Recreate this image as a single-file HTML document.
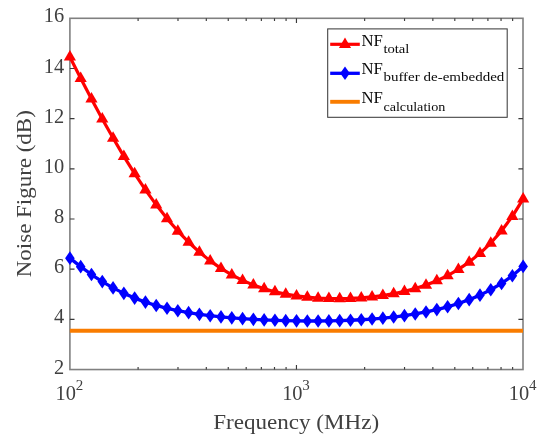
<!DOCTYPE html>
<html><head><meta charset="utf-8"><style>
html,body{margin:0;padding:0;background:#fff;}
svg{display:block;}
</style></head><body>
<svg style="will-change:transform" width="550" height="443" viewBox="0 0 550 443">
<rect width="550" height="443" fill="#ffffff"/>
<rect x="69.9" y="18.3" width="453.10" height="351.25" fill="none" stroke="#808080" stroke-width="1.6"/>
<path d="M69.9,319.37h4.6M523.0,319.37h-4.6M69.9,269.19h4.6M523.0,269.19h-4.6M69.9,219.01h4.6M523.0,219.01h-4.6M69.9,168.84h4.6M523.0,168.84h-4.6M69.9,118.66h4.6M523.0,118.66h-4.6M69.9,68.48h4.6M523.0,68.48h-4.6M296.45,369.55v-4.6M296.45,18.3v4.6M138.10,369.55v-2.6M138.10,18.3v2.6M177.99,369.55v-2.6M177.99,18.3v2.6M206.30,369.55v-2.6M206.30,18.3v2.6M228.25,369.55v-2.6M228.25,18.3v2.6M246.19,369.55v-2.6M246.19,18.3v2.6M261.36,369.55v-2.6M261.36,18.3v2.6M274.50,369.55v-2.6M274.50,18.3v2.6M286.08,369.55v-2.6M286.08,18.3v2.6M364.65,369.55v-2.6M364.65,18.3v2.6M404.54,369.55v-2.6M404.54,18.3v2.6M432.85,369.55v-2.6M432.85,18.3v2.6M454.80,369.55v-2.6M454.80,18.3v2.6M472.74,369.55v-2.6M472.74,18.3v2.6M487.91,369.55v-2.6M487.91,18.3v2.6M501.05,369.55v-2.6M501.05,18.3v2.6M512.63,369.55v-2.6M512.63,18.3v2.6" stroke="#3a3a3a" stroke-width="1.15" fill="none"/>
<line x1="69.9" y1="330.7" x2="523.0" y2="330.7" stroke="#f97c00" stroke-width="3.9"/>
<polyline points="69.90,258.15 80.69,266.65 91.48,274.51 102.28,281.61 113.07,287.89 123.86,293.37 134.65,298.08 145.44,302.09 156.23,305.47 167.03,308.31 177.82,310.69 188.61,312.67 199.40,314.33 210.19,315.72 220.98,316.88 231.78,317.85 242.57,318.66 253.36,319.33 264.15,319.88 274.94,320.32 285.73,320.64 296.52,320.86 307.32,320.98 318.11,320.99 328.90,320.88 339.69,320.64 350.48,320.27 361.27,319.75 372.07,319.05 382.86,318.15 393.65,317.03 404.44,315.65 415.23,313.98 426.02,311.98 436.82,309.60 447.61,306.80 458.40,303.51 469.19,299.66 479.98,295.13 490.77,289.79 501.57,283.43 512.36,275.77 523.15,266.40" fill="none" stroke="#0000ff" stroke-width="3.3" stroke-linejoin="round"/>
<g fill="#0000ff"><path d="M69.90,251.35L74.70,258.15L69.90,264.95L65.10,258.15Z"/><path d="M80.69,259.85L85.49,266.65L80.69,273.45L75.89,266.65Z"/><path d="M91.48,267.71L96.28,274.51L91.48,281.31L86.68,274.51Z"/><path d="M102.28,274.81L107.08,281.61L102.28,288.41L97.48,281.61Z"/><path d="M113.07,281.09L117.87,287.89L113.07,294.69L108.27,287.89Z"/><path d="M123.86,286.57L128.66,293.37L123.86,300.17L119.06,293.37Z"/><path d="M134.65,291.28L139.45,298.08L134.65,304.88L129.85,298.08Z"/><path d="M145.44,295.29L150.24,302.09L145.44,308.89L140.64,302.09Z"/><path d="M156.23,298.67L161.03,305.47L156.23,312.27L151.43,305.47Z"/><path d="M167.03,301.51L171.83,308.31L167.03,315.11L162.22,308.31Z"/><path d="M177.82,303.89L182.62,310.69L177.82,317.49L173.02,310.69Z"/><path d="M188.61,305.87L193.41,312.67L188.61,319.47L183.81,312.67Z"/><path d="M199.40,307.53L204.20,314.33L199.40,321.13L194.60,314.33Z"/><path d="M210.19,308.92L214.99,315.72L210.19,322.52L205.39,315.72Z"/><path d="M220.98,310.08L225.78,316.88L220.98,323.68L216.18,316.88Z"/><path d="M231.78,311.05L236.58,317.85L231.78,324.65L226.97,317.85Z"/><path d="M242.57,311.86L247.37,318.66L242.57,325.46L237.77,318.66Z"/><path d="M253.36,312.53L258.16,319.33L253.36,326.13L248.56,319.33Z"/><path d="M264.15,313.08L268.95,319.88L264.15,326.68L259.35,319.88Z"/><path d="M274.94,313.52L279.74,320.32L274.94,327.12L270.14,320.32Z"/><path d="M285.73,313.84L290.53,320.64L285.73,327.44L280.93,320.64Z"/><path d="M296.52,314.06L301.32,320.86L296.52,327.66L291.72,320.86Z"/><path d="M307.32,314.18L312.12,320.98L307.32,327.78L302.52,320.98Z"/><path d="M318.11,314.19L322.91,320.99L318.11,327.79L313.31,320.99Z"/><path d="M328.90,314.08L333.70,320.88L328.90,327.68L324.10,320.88Z"/><path d="M339.69,313.84L344.49,320.64L339.69,327.44L334.89,320.64Z"/><path d="M350.48,313.47L355.28,320.27L350.48,327.07L345.68,320.27Z"/><path d="M361.27,312.95L366.07,319.75L361.27,326.55L356.47,319.75Z"/><path d="M372.07,312.25L376.87,319.05L372.07,325.85L367.27,319.05Z"/><path d="M382.86,311.35L387.66,318.15L382.86,324.95L378.06,318.15Z"/><path d="M393.65,310.23L398.45,317.03L393.65,323.83L388.85,317.03Z"/><path d="M404.44,308.85L409.24,315.65L404.44,322.45L399.64,315.65Z"/><path d="M415.23,307.18L420.03,313.98L415.23,320.78L410.43,313.98Z"/><path d="M426.02,305.18L430.82,311.98L426.02,318.78L421.22,311.98Z"/><path d="M436.82,302.80L441.62,309.60L436.82,316.40L432.02,309.60Z"/><path d="M447.61,300.00L452.41,306.80L447.61,313.60L442.81,306.80Z"/><path d="M458.40,296.71L463.20,303.51L458.40,310.31L453.60,303.51Z"/><path d="M469.19,292.86L473.99,299.66L469.19,306.46L464.39,299.66Z"/><path d="M479.98,288.33L484.78,295.13L479.98,301.93L475.18,295.13Z"/><path d="M490.77,282.99L495.57,289.79L490.77,296.59L485.97,289.79Z"/><path d="M501.57,276.63L506.37,283.43L501.57,290.23L496.77,283.43Z"/><path d="M512.36,268.97L517.16,275.77L512.36,282.57L507.56,275.77Z"/><path d="M523.15,259.60L527.95,266.40L523.15,273.20L518.35,266.40Z"/></g>
<polyline points="69.90,56.94 80.69,78.29 91.48,98.95 102.28,118.90 113.07,138.08 123.86,156.37 134.65,173.66 145.44,189.84 156.23,204.83 167.03,218.58 177.82,231.04 188.61,242.23 199.40,252.16 210.19,260.87 220.98,268.43 231.78,274.91 242.57,280.38 253.36,284.95 264.15,288.70 274.94,291.72 285.73,294.09 296.52,295.89 307.32,297.19 318.11,298.05 328.90,298.52 339.69,298.62 350.48,298.38 361.27,297.78 372.07,296.83 382.86,295.48 393.65,293.70 404.44,291.41 415.23,288.56 426.02,285.03 436.82,280.75 447.61,275.58 458.40,269.41 469.19,262.06 479.98,253.36 490.77,243.06 501.57,230.85 512.36,216.30 523.15,198.84" fill="none" stroke="#ff0000" stroke-width="3.2" stroke-linejoin="round"/>
<g fill="#ff0000"><path d="M69.90,50.04L76.00,60.54L63.80,60.54Z"/><path d="M80.69,71.39L86.79,81.89L74.59,81.89Z"/><path d="M91.48,92.05L97.58,102.55L85.38,102.55Z"/><path d="M102.28,112.00L108.38,122.50L96.18,122.50Z"/><path d="M113.07,131.18L119.17,141.68L106.97,141.68Z"/><path d="M123.86,149.47L129.96,159.97L117.76,159.97Z"/><path d="M134.65,166.76L140.75,177.26L128.55,177.26Z"/><path d="M145.44,182.94L151.54,193.44L139.34,193.44Z"/><path d="M156.23,197.93L162.33,208.43L150.13,208.43Z"/><path d="M167.03,211.68L173.12,222.18L160.93,222.18Z"/><path d="M177.82,224.14L183.92,234.64L171.72,234.64Z"/><path d="M188.61,235.33L194.71,245.83L182.51,245.83Z"/><path d="M199.40,245.26L205.50,255.76L193.30,255.76Z"/><path d="M210.19,253.97L216.29,264.47L204.09,264.47Z"/><path d="M220.98,261.53L227.08,272.03L214.88,272.03Z"/><path d="M231.78,268.01L237.88,278.51L225.68,278.51Z"/><path d="M242.57,273.48L248.67,283.98L236.47,283.98Z"/><path d="M253.36,278.05L259.46,288.55L247.26,288.55Z"/><path d="M264.15,281.80L270.25,292.30L258.05,292.30Z"/><path d="M274.94,284.82L281.04,295.32L268.84,295.32Z"/><path d="M285.73,287.19L291.83,297.69L279.63,297.69Z"/><path d="M296.52,288.99L302.62,299.49L290.42,299.49Z"/><path d="M307.32,290.29L313.42,300.79L301.22,300.79Z"/><path d="M318.11,291.15L324.21,301.65L312.01,301.65Z"/><path d="M328.90,291.62L335.00,302.12L322.80,302.12Z"/><path d="M339.69,291.72L345.79,302.22L333.59,302.22Z"/><path d="M350.48,291.48L356.58,301.98L344.38,301.98Z"/><path d="M361.27,290.88L367.38,301.38L355.17,301.38Z"/><path d="M372.07,289.93L378.17,300.43L365.97,300.43Z"/><path d="M382.86,288.58L388.96,299.08L376.76,299.08Z"/><path d="M393.65,286.80L399.75,297.30L387.55,297.30Z"/><path d="M404.44,284.51L410.54,295.01L398.34,295.01Z"/><path d="M415.23,281.66L421.33,292.16L409.13,292.16Z"/><path d="M426.02,278.13L432.12,288.63L419.92,288.63Z"/><path d="M436.82,273.85L442.92,284.35L430.72,284.35Z"/><path d="M447.61,268.68L453.71,279.18L441.51,279.18Z"/><path d="M458.40,262.51L464.50,273.01L452.30,273.01Z"/><path d="M469.19,255.16L475.29,265.66L463.09,265.66Z"/><path d="M479.98,246.46L486.08,256.96L473.88,256.96Z"/><path d="M490.77,236.16L496.88,246.66L484.67,246.66Z"/><path d="M501.57,223.95L507.67,234.45L495.47,234.45Z"/><path d="M512.36,209.40L518.46,219.90L506.26,219.90Z"/><path d="M523.15,191.94L529.25,202.44L517.05,202.44Z"/></g>
<g font-family="Liberation Serif" font-size="20.4" fill="#404040"><text x="64.2" y="373.65" text-anchor="end">2</text><text x="64.2" y="323.47" text-anchor="end">4</text><text x="64.2" y="273.29" text-anchor="end">6</text><text x="64.2" y="223.11" text-anchor="end">8</text><text x="64.2" y="172.94" text-anchor="end">10</text><text x="64.2" y="122.76" text-anchor="end">12</text><text x="64.2" y="72.58" text-anchor="end">14</text><text x="64.2" y="22.40" text-anchor="end">16</text><text x="55.60" y="399.8">10</text><text x="75.80" y="390" font-size="15">2</text><text x="282.15" y="399.8">10</text><text x="302.35" y="390" font-size="15">3</text><text x="508.70" y="399.8">10</text><text x="528.90" y="390" font-size="15">4</text></g>
<text x="296.2" y="429" text-anchor="middle" font-family="Liberation Serif" font-size="20.8" fill="#404040" textLength="166" lengthAdjust="spacingAndGlyphs">Frequency (MHz)</text>
<text transform="translate(31.4,193.7) rotate(-90)" x="0" y="0" text-anchor="middle" font-family="Liberation Serif" font-size="20.8" fill="#404040" textLength="167" lengthAdjust="spacingAndGlyphs">Noise Figure (dB)</text>
<rect x="327.7" y="28.9" width="179.5" height="88.4" fill="#ffffff" stroke="#3c3c3c" stroke-width="1.05"/>
<line x1="330.2" y1="44.3" x2="359.8" y2="44.3" stroke="#ff0000" stroke-width="3.2"/>
<g fill="#ff0000"><path d="M345.00,37.40L351.10,47.90L338.90,47.90Z"/></g>
<text x="361.4" y="45.6" font-family="Liberation Serif" font-size="16" fill="#0a0a0a" textLength="21.4" lengthAdjust="spacingAndGlyphs">NF</text>
<text x="383.4" y="52.8" font-family="Liberation Serif" font-size="12.3" fill="#0a0a0a" textLength="26.0" lengthAdjust="spacingAndGlyphs">total</text>
<line x1="330.2" y1="73.3" x2="359.8" y2="73.3" stroke="#0000ff" stroke-width="3.3"/>
<g fill="#0000ff"><path d="M345.00,66.50L349.80,73.30L345.00,80.10L340.20,73.30Z"/></g>
<text x="361.4" y="74.0" font-family="Liberation Serif" font-size="16" fill="#0a0a0a" textLength="21.4" lengthAdjust="spacingAndGlyphs">NF</text>
<text x="383.4" y="81.4" font-family="Liberation Serif" font-size="12.3" fill="#0a0a0a" textLength="121.0" lengthAdjust="spacingAndGlyphs">buffer de-embedded</text>
<line x1="330.2" y1="101.8" x2="359.8" y2="101.8" stroke="#f97c00" stroke-width="3.9"/>
<text x="361.4" y="102.9" font-family="Liberation Serif" font-size="16" fill="#0a0a0a" textLength="21.4" lengthAdjust="spacingAndGlyphs">NF</text>
<text x="383.4" y="110.5" font-family="Liberation Serif" font-size="12.3" fill="#0a0a0a" textLength="62.0" lengthAdjust="spacingAndGlyphs">calculation</text>
</svg>
</body></html>
